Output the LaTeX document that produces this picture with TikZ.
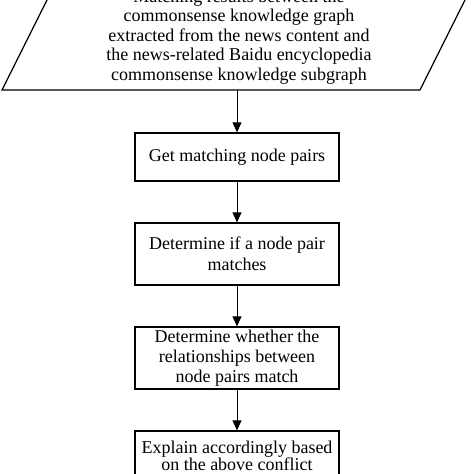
\documentclass[tikz,border=0pt]{standalone}
\usepackage{fontspec}
\setmainfont{Liberation Serif}
\usetikzlibrary{arrows.meta}
\begin{document}
\begin{tikzpicture}[x=1pt,y=-1pt,
  lbl/.style={font=\fontsize{18}{19.5}\selectfont, align=center, inner sep=0pt},
  box/.style={draw, line width=1.3pt, minimum width=204pt, minimum height=48pt, inner sep=0pt, align=center, font=\fontsize{18}{20}\selectfont},
  arr/.style={line width=0.9pt, -{Triangle[length=10pt,width=9pt]}}]
\useasboundingbox (0,0) rectangle (474,474);
\fill[white] (0,0) rectangle (474,474);
\draw[line width=1.3pt] (57,-20) -- (2,90) -- (420,90) -- (475,-20);
\node[lbl] (para) at (239,37) {Matching results between the\\commonsense knowledge graph\\extracted from the news content and\\the news-related Baidu encyclopedia\\commonsense knowledge subgraph};
\coordinate (pbot) at (237,90);
\node[box] (b1) at (237,157) {Get matching node pairs};
\node[box, minimum height=62pt, font=\fontsize{18}{21}\selectfont] (b2) at (237,254) {Determine if a node pair\\matches};
\node[box, minimum height=62pt] (b3) at (237,358) {Determine whether the\\relationships between\\node pairs match};
\node[box, minimum height=50pt, font=\fontsize{18}{17.5}\selectfont] (b4) at (237,456) {Explain accordingly based\\on the above conflict};
\draw[arr] (pbot) -- (b1);
\draw[arr] (b1) -- (b2);
\draw[arr] (b2) -- (b3);
\draw[arr] (b3) -- (b4);
\end{tikzpicture}
\end{document}
